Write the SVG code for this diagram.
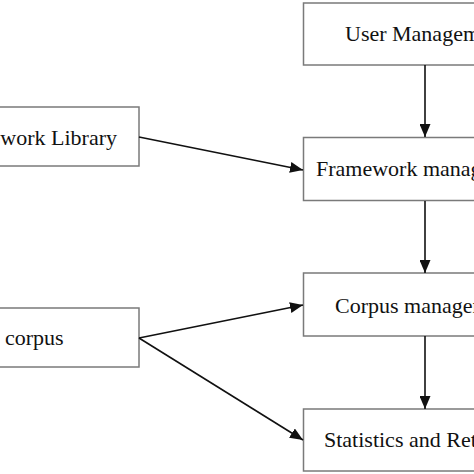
<svg xmlns="http://www.w3.org/2000/svg" width="474" height="474" viewBox="0 0 474 474">
<defs>
<style>
.box{fill:#fff;stroke:#7a7a7a;stroke-width:1.5}
.lbl{font-family:"Liberation Serif","Times New Roman",serif;font-size:22px;fill:#111}
.edge{stroke:#111;stroke-width:1.6;fill:none;marker-end:url(#ah)}
</style>
<marker id="ah" viewBox="0 0 13 11" refX="13" refY="5.5" markerWidth="13" markerHeight="11" markerUnits="userSpaceOnUse" orient="auto">
<path d="M0,0 L13,5.5 L0,11 Z" fill="#111"/>
</marker>
</defs>
<rect width="474" height="474" fill="#fff"/>
<g id="user-management">
<rect class="box" x="303.5" y="3" width="200" height="62"/>
<text class="lbl" x="345" y="41">User Management</text>
</g>
<g id="framework-library">
<rect class="box" x="-40" y="107" width="179" height="59"/>
<text class="lbl" x="117" y="145" text-anchor="end">Framework Library</text>
</g>
<g id="framework-management">
<rect class="box" x="303.5" y="137.5" width="200" height="63"/>
<text class="lbl" x="316" y="176">Framework management</text>
</g>
<g id="corpus">
<rect class="box" x="-40" y="308" width="179" height="59"/>
<text class="lbl" x="5" y="345">corpus</text>
</g>
<g id="corpus-management">
<rect class="box" x="303.5" y="273" width="200" height="63"/>
<text class="lbl" x="335" y="313">Corpus management</text>
</g>
<g id="statistics">
<rect class="box" x="303.5" y="409" width="200" height="62"/>
<text class="lbl" x="324" y="447">Statistics and Retrieval</text>
</g>
<g id="connectors">
<line class="edge" x1="425" y1="65" x2="425" y2="137"/>
<line class="edge" x1="139" y1="137" x2="303" y2="170"/>
<line class="edge" x1="425" y1="201" x2="425" y2="273"/>
<line class="edge" x1="139" y1="338" x2="303" y2="305"/>
<line class="edge" x1="139" y1="338" x2="303" y2="440"/>
<line class="edge" x1="425" y1="336" x2="425" y2="409"/>
</g>
</svg>
